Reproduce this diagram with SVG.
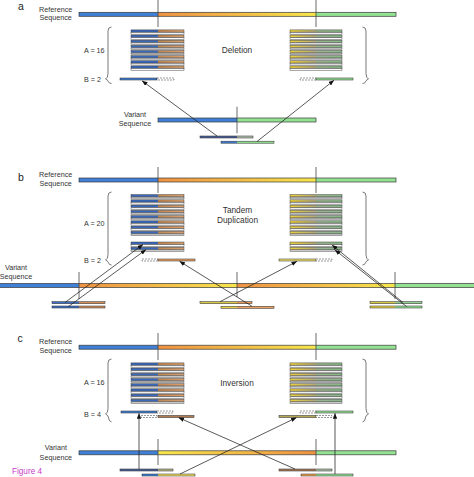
<svg xmlns="http://www.w3.org/2000/svg" xmlns:xlink="http://www.w3.org/1999/xlink" width="474" height="477" viewBox="0 0 474 477">
<style>
text{font-family:"Liberation Sans",Arial,Helvetica,sans-serif;fill:#333}
.lbl{font-size:7.2px}
.mid{text-anchor:middle}
.ttl{font-size:8.3px;text-anchor:middle}
.pl{font-size:10.5px;fill:#222}
.fig{font-size:8.2px;fill:#c83cc8}
.o{fill:none;stroke:#3a3a3a;stroke-width:.7}
.ro{fill:none;stroke:#333;stroke-width:.55}
.dash{fill:#fff;stroke:#333;stroke-width:.5;stroke-dasharray:2 1}
.vl{stroke:#444;stroke-width:.8}
.br{fill:none;stroke:#555;stroke-width:.8}
.ar{stroke:#222;stroke-width:.75;fill:none;marker-end:url(#ah)}
.bl{fill:#3f7fd6}.gr{fill:#92e292}.oy{fill:url(#gOY)}.yo{fill:url(#gYO)}
</style>
<defs>
<linearGradient id="gOY" x1="0" x2="1" y1="0" y2="0"><stop offset="0" stop-color="#ee9142"/><stop offset="1" stop-color="#f7e64c"/></linearGradient>
<linearGradient id="gYO" x1="0" x2="1" y1="0" y2="0"><stop offset="0" stop-color="#f7e64c"/><stop offset="1" stop-color="#ee9142"/></linearGradient>
<linearGradient id="gL" x1="0" x2="1" y1="0" y2="0"><stop offset="0" stop-color="#3a68ba"/><stop offset=".509" stop-color="#3a68ba"/><stop offset=".509" stop-color="#c08650"/><stop offset="1" stop-color="#d8a070"/></linearGradient>
<linearGradient id="gR" x1="0" x2="1" y1="0" y2="0"><stop offset="0" stop-color="#ecd03a"/><stop offset=".5" stop-color="#b0a878"/><stop offset=".5" stop-color="#9ab28c"/><stop offset="1" stop-color="#86b886"/></linearGradient>
<marker id="ah" viewBox="0 0 10 8" refX="10" refY="4" markerWidth="5.5" markerHeight="4.4" markerUnits="userSpaceOnUse" orient="auto"><path d="M0,0 L10,4 L0,8 z" fill="#111"/></marker>
<g id="rowL"><rect x="131" y="-1.1" width="53" height="2.2" fill="url(#gL)" stroke="#333" stroke-width=".45"/><rect x="131" y="1.65" width="53" height="1.5" fill="#fff" stroke="#333" stroke-width=".45"/></g>
<g id="rowR"><rect x="290" y="-1.1" width="52" height="2.2" fill="url(#gR)" stroke="#333" stroke-width=".45"/><rect x="290" y="1.65" width="52" height="1.5" fill="#fff" stroke="#333" stroke-width=".45"/></g>
</defs>
<rect width="474" height="477" fill="#fff"/>

<!-- ================= Panel a ================= -->
<g id="panel-a">
<text class="pl" x="18" y="9.5">a</text>
<g id="a-ref">
<text class="lbl mid" x="55.7" y="11.5">Reference</text>
<text class="lbl mid" x="55.7" y="20.3">Sequence</text>
<rect class="bl" x="79" y="12.3" width="79" height="4"/><rect class="oy" x="158" y="12.3" width="158" height="4"/><rect class="gr" x="316" y="12.3" width="80" height="4"/>
<rect class="o" x="79" y="12.3" width="317" height="4"/>
<line class="vl" x1="158" y1="0" x2="158" y2="27"/><line class="vl" x1="316" y1="0" x2="316" y2="27"/>
</g>
<g id="a-stack-left">
<use xlink:href="#rowL" y="31"/><use xlink:href="#rowL" y="36.15"/><use xlink:href="#rowL" y="41.3"/><use xlink:href="#rowL" y="46.45"/><use xlink:href="#rowL" y="51.6"/><use xlink:href="#rowL" y="56.75"/><use xlink:href="#rowL" y="61.9"/><use xlink:href="#rowL" y="67.05"/>
</g>
<g id="a-stack-right">
<use xlink:href="#rowR" y="31"/><use xlink:href="#rowR" y="36.15"/><use xlink:href="#rowR" y="41.3"/><use xlink:href="#rowR" y="46.45"/><use xlink:href="#rowR" y="51.6"/><use xlink:href="#rowR" y="56.75"/><use xlink:href="#rowR" y="61.9"/><use xlink:href="#rowR" y="67.05"/>
</g>
<g id="a-counts">
<text class="lbl" x="84" y="52.7">A = 16</text>
<text class="lbl" x="84" y="81.7">B = 2</text>
<path class="br" d="M111.5,27 Q108,27 108,31 L108,73.5 Q108,78 105.5,79 Q108,80 108.3,81.5 Q109,83.5 111.5,83.5"/>
<path class="br" d="M362.5,27 Q366,27 366,31 L366,73.5 Q366,78 368.5,79 Q366,80 365.7,81.5 Q365,83.5 362.5,83.5"/>
</g>
<text id="a-title" class="ttl" x="237" y="53.3">Deletion</text>
<g id="a-breads">
<rect class="bl" x="120" y="78" width="37" height="2" stroke="#333" stroke-width=".55"/><rect class="dash" x="157" y="78" width="17" height="2"/>
<rect class="dash" x="300" y="78" width="16" height="2"/><rect class="gr" x="316" y="78" width="37" height="2" stroke="#333" stroke-width=".55"/>
</g>
<g id="a-variant">
<text class="lbl mid" x="135" y="117.3">Variant</text>
<text class="lbl mid" x="135" y="126.3">Sequence</text>
<rect class="bl" x="158" y="118" width="79" height="4"/><rect class="gr" x="237" y="118" width="79" height="4"/>
<rect class="o" x="158" y="118" width="158" height="4"/>
<line class="vl" x1="237" y1="106.7" x2="237" y2="133.3"/>
</g>
<g id="a-reads">
<rect x="200" y="136" width="37" height="2" fill="#4a5e98"/><rect x="237" y="136" width="16" height="2" fill="#b4c2b0"/><rect class="ro" x="200" y="136" width="53" height="2"/>
<rect class="bl" x="221" y="141.2" width="16" height="2"/><rect class="gr" x="237" y="141.2" width="37" height="2"/><rect class="ro" x="221" y="141.2" width="53" height="2"/>
</g>
</g>

<!-- ================= Panel b ================= -->
<g id="panel-b">
<text class="pl" x="18" y="180.5">b</text>
<g id="b-ref">
<text class="lbl mid" x="55.7" y="177.3">Reference</text>
<text class="lbl mid" x="55.7" y="186.3">Sequence</text>
<rect class="bl" x="79" y="178" width="79" height="4"/><rect class="oy" x="158" y="178" width="158" height="4"/><rect class="gr" x="316" y="178" width="80" height="4"/>
<rect class="o" x="79" y="178" width="317" height="4"/>
<line class="vl" x1="158" y1="167" x2="158" y2="193"/><line class="vl" x1="316" y1="167" x2="316" y2="193"/>
</g>
<g id="b-stack-left">
<use xlink:href="#rowL" y="195.7"/><use xlink:href="#rowL" y="200.95"/><use xlink:href="#rowL" y="206.2"/><use xlink:href="#rowL" y="211.45"/><use xlink:href="#rowL" y="216.7"/><use xlink:href="#rowL" y="221.95"/><use xlink:href="#rowL" y="227.2"/><use xlink:href="#rowL" y="232.45"/><use xlink:href="#rowL" y="243.1"/><use xlink:href="#rowL" y="248.4"/>
</g>
<g id="b-stack-right">
<use xlink:href="#rowR" y="195.7"/><use xlink:href="#rowR" y="200.95"/><use xlink:href="#rowR" y="206.2"/><use xlink:href="#rowR" y="211.45"/><use xlink:href="#rowR" y="216.7"/><use xlink:href="#rowR" y="221.95"/><use xlink:href="#rowR" y="227.2"/><use xlink:href="#rowR" y="232.45"/><use xlink:href="#rowR" y="243.1"/><use xlink:href="#rowR" y="248.4"/>
</g>
<g id="b-counts">
<text class="lbl" x="84" y="225.5">A = 20</text>
<text class="lbl" x="84" y="262.5">B = 2</text>
<path class="br" d="M111.5,192 Q108,192 108,196 L108,254.5 Q108,259 105.5,260 Q108,261 108.3,262.5 Q109,265 111.5,265"/>
<path class="br" d="M362.5,192 Q366,192 366,196 L366,254.5 Q366,259 368.5,260 Q366,261 365.7,262.5 Q365,265 362.5,265"/>
</g>
<g id="b-title">
<text class="ttl" x="237.5" y="213.2">Tandem</text>
<text class="ttl" x="237.5" y="222.6">Duplication</text>
</g>
<g id="b-breads">
<rect class="dash" x="142" y="259" width="16" height="2"/><rect x="158" y="259" width="37" height="2" fill="#eba062" stroke="#333" stroke-width=".55"/>
<rect x="279" y="259" width="37" height="2" fill="#f2e26a" stroke="#333" stroke-width=".55"/><rect class="dash" x="316" y="259" width="16" height="2"/>
</g>
<g id="b-variant">
<text class="lbl mid" x="16" y="270">Variant</text>
<text class="lbl mid" x="16" y="278.5">Sequence</text>
<rect class="bl" x="0" y="283.5" width="79" height="4"/><rect class="oy" x="79" y="283.5" width="158" height="4"/><rect class="oy" x="237" y="283.5" width="158" height="4"/><rect class="gr" x="395" y="283.5" width="79" height="4"/>
<rect class="o" x="-1" y="283.5" width="476" height="4"/>
<line class="vl" x1="79" y1="272" x2="79" y2="299"/><line class="vl" x1="237" y1="272" x2="237" y2="297"/><line class="vl" x1="395" y1="272" x2="395" y2="299"/>
</g>
<g id="b-reads">
<rect x="52" y="301.7" width="27" height="2" fill="#3f70c4"/><rect x="79" y="301.7" width="26" height="2" fill="#d08e5a"/><rect class="ro" x="52" y="301.7" width="53" height="2"/>
<rect x="52" y="306" width="27" height="2" fill="#3f70c4"/><rect x="79" y="306" width="26" height="2" fill="#d08e5a"/><rect class="ro" x="52" y="306" width="53" height="2"/>
<rect x="200" y="301.7" width="37" height="2" fill="#d8c84a"/><rect x="237" y="301.7" width="15" height="2" fill="#e39a5a"/><rect class="ro" x="200" y="301.7" width="52" height="2"/>
<rect x="221" y="306.3" width="16" height="2" fill="#e6d24a"/><rect x="237" y="306.3" width="37" height="2" fill="#e9a060"/><rect class="ro" x="221" y="306.3" width="53" height="2"/>
<rect x="370" y="301.7" width="25" height="2" fill="#d8c84a"/><rect x="395" y="301.7" width="27" height="2" fill="#92d092"/><rect class="ro" x="370" y="301.7" width="52" height="2"/>
<rect x="370" y="306" width="25" height="2" fill="#e6d24a"/><rect x="395" y="306" width="27" height="2" fill="#92e292"/><rect class="ro" x="370" y="306" width="52" height="2"/>
</g>
</g>

<!-- ================= Panel c ================= -->
<g id="panel-c">
<text class="pl" x="17.5" y="342.3">c</text>
<g id="c-ref">
<text class="lbl mid" x="55.7" y="344">Reference</text>
<text class="lbl mid" x="55.7" y="353">Sequence</text>
<rect class="bl" x="79" y="345.2" width="79" height="4"/><rect class="oy" x="158" y="345.2" width="158" height="4"/><rect class="gr" x="316" y="345.2" width="80" height="4"/>
<rect class="o" x="79" y="345.2" width="317" height="4"/>
<line class="vl" x1="158" y1="333" x2="158" y2="360"/><line class="vl" x1="316" y1="333" x2="316" y2="360"/>
</g>
<g id="c-stack-left">
<use xlink:href="#rowL" y="364"/><use xlink:href="#rowL" y="369.2"/><use xlink:href="#rowL" y="374.4"/><use xlink:href="#rowL" y="379.6"/><use xlink:href="#rowL" y="384.8"/><use xlink:href="#rowL" y="390"/><use xlink:href="#rowL" y="395.2"/><use xlink:href="#rowL" y="400.4"/>
</g>
<g id="c-stack-right">
<use xlink:href="#rowR" y="364"/><use xlink:href="#rowR" y="369.2"/><use xlink:href="#rowR" y="374.4"/><use xlink:href="#rowR" y="379.6"/><use xlink:href="#rowR" y="384.8"/><use xlink:href="#rowR" y="390"/><use xlink:href="#rowR" y="395.2"/><use xlink:href="#rowR" y="400.4"/>
</g>
<g id="c-counts">
<text class="lbl" x="84" y="385.3">A = 16</text>
<text class="lbl" x="84" y="417.3">B = 4</text>
<path class="br" d="M111.5,359 Q108,359 108,363 L108,408.5 Q108,413 105.5,414 Q108,415 108.3,417 Q109,422 111.5,422"/>
<path class="br" d="M362.5,359 Q366,359 366,363 L366,408.5 Q366,413 368.5,414 Q366,415 365.7,417 Q365,422 362.5,422"/>
</g>
<text id="c-title" class="ttl" x="237" y="386">Inversion</text>
<g id="c-breads">
<rect class="bl" x="121" y="411" width="36" height="2" stroke="#333" stroke-width=".55"/><rect class="dash" x="157" y="411" width="16" height="2"/>
<rect class="dash" x="141" y="415.5" width="16" height="2"/><rect x="158" y="415.5" width="36" height="2" fill="#b07a52" stroke="#333" stroke-width=".55"/>
<rect class="dash" x="300" y="411" width="16" height="2"/><rect class="gr" x="316" y="411" width="37" height="2" stroke="#333" stroke-width=".55"/>
<rect x="279" y="415.5" width="37" height="2" fill="#b4a852" stroke="#333" stroke-width=".55"/><rect class="dash" x="316" y="415.5" width="16" height="2"/>
</g>
<g id="c-variant">
<text class="lbl mid" x="55.8" y="450">Variant</text>
<text class="lbl mid" x="55.8" y="459.5">Sequence</text>
<rect class="bl" x="79" y="450.8" width="79" height="4"/><rect class="yo" x="158" y="450.8" width="158" height="4"/><rect class="gr" x="316" y="450.8" width="80" height="4"/>
<rect class="o" x="79" y="450.8" width="317" height="4"/>
<line class="vl" x1="158" y1="439" x2="158" y2="465"/><line class="vl" x1="316" y1="439" x2="316" y2="465"/>
</g>
<g id="c-reads">
<rect x="120" y="469" width="38" height="2" fill="#4a5e98"/><rect x="158" y="469" width="15" height="2" fill="#b8b88a"/><rect class="ro" x="120" y="469" width="53" height="2"/>
<rect class="bl" x="142" y="474" width="16" height="2"/><rect x="158" y="474" width="37" height="2" fill="#f2e060"/><rect class="ro" x="142" y="474" width="53" height="2"/>
<rect x="279" y="469" width="37" height="2" fill="#a8785a"/><rect x="316" y="469" width="16" height="2" fill="#b0c2a8"/><rect class="ro" x="279" y="469" width="53" height="2"/>
<rect x="301" y="474" width="15" height="2" fill="#f0a050"/><rect class="gr" x="316" y="474" width="37" height="2"/><rect class="ro" x="301" y="474" width="52" height="2"/>
</g>
<text class="fig" x="12" y="473.7">Figure 4</text>
</g>

<!-- ================= Connectors ================= -->
<g id="connectors">
<line class="ar" x1="217" y1="136" x2="142" y2="80.8"/>
<line class="ar" x1="257" y1="141.5" x2="334" y2="80.3"/>
<line class="ar" x1="65" y1="302.5" x2="143" y2="244.5"/>
<line class="ar" x1="68.5" y1="306.5" x2="146" y2="249.6"/>
<line class="ar" x1="252" y1="306.3" x2="179.5" y2="261.3"/>
<line class="ar" x1="220" y1="301.7" x2="297" y2="261.3"/>
<line class="ar" x1="403" y1="302.5" x2="332" y2="245"/>
<line class="ar" x1="406.5" y1="306.5" x2="335" y2="250"/>
<line class="ar" x1="139" y1="469" x2="139" y2="413.2"/>
<line class="ar" x1="335" y1="474" x2="335" y2="413.2"/>
<line class="ar" x1="180" y1="474" x2="296.5" y2="417.6"/>
<line class="ar" x1="295" y1="469" x2="178.5" y2="417.6"/>
</g>
</svg>
